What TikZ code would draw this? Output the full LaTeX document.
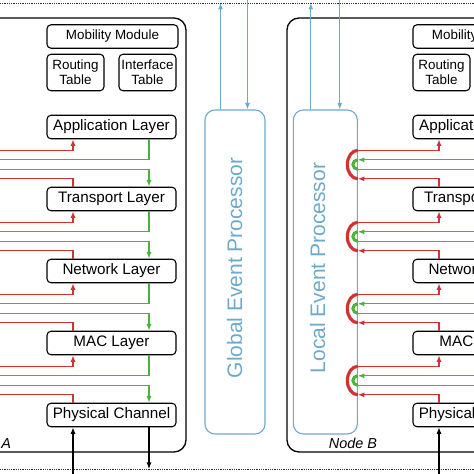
\documentclass[tikz,border=0pt]{standalone}
\usepackage{fontspec}
\setmainfont{Liberation Sans}
\usetikzlibrary{arrows.meta}
\definecolor{evred}{RGB}{208,52,50}
\definecolor{evgreen}{RGB}{72,180,62}
\definecolor{evblue}{RGB}{108,170,202}
\tikzset{
  nodebox/.style={draw, line width=1.3pt, rounded corners=12pt, inner sep=0pt},
  layer/.style={draw, line width=1.1pt, rounded corners=4pt, inner sep=0pt,
    minimum width=129pt, minimum height=23.5pt, font=\fontsize{15.2}{15.2}\selectfont},
  infobox/.style={draw, line width=1.1pt, rounded corners=4pt, inner sep=0pt, align=center,
    minimum height=23.5pt, font=\fontsize{13.4}{14.6}\selectfont},
  proc/.style={draw=evblue, line width=1.1pt, rounded corners=10pt, inner sep=0pt,
    minimum height=324pt},
  proclabel/.style={rotate=90, text=evblue, inner sep=0pt, font=\fontsize{21}{21}\selectfont},
  sig/.style={-{Latex[length=6.5pt,width=5pt]}, line width=1.1pt},
  redsig/.style={sig, evred},
  greensig/.style={sig, evgreen},
  bluesig/.style={sig, evblue},
  redcap/.style={evred, line width=3.2pt},
  greencap/.style={evgreen, line width=3pt},
}
\begin{document}
\begin{tikzpicture}[x=1pt,y=1pt]
  \useasboundingbox (0,0) rectangle (474,474);
  \clip (0,0) rectangle (474,474);
  % channel borders top and bottom
  \coordinate (page-top) at (0,474);
  \coordinate (page-bot) at (0,0);
  \coordinate (chan-top) at (0,471);
  \coordinate (chan-bot) at (0,5);
  \coordinate (chan-top-r) at (474,471);
  \coordinate (chan-bot-r) at (474,5);
  \draw[densely dotted, line width=0.8pt, black!80] (chan-top) -- (chan-top-r);
  \draw[densely dotted, line width=0.8pt, black!80] (chan-bot) -- (chan-bot-r);
  % global event processor between the two nodes
  \node[proc, minimum width=60pt] (gep) at (235,202) {};
  \node[proclabel] (gep-label) at (234.5,206) {Global Event Processor};
  \draw[bluesig] ([xshift=-14.5pt]gep.north) -- ([xshift=-14.5pt]gep.north |- chan-top);
  \draw[bluesig] ([xshift=12.5pt]gep.north |- page-top) -- ([xshift=12.5pt]gep.north);
  % the two nodes, B is node A shifted right
  \foreach \n/\dx in {A/0,B/366}{
    \begin{scope}[shift={(\dx,0)}]
      \node[nodebox, minimum width=265pt, minimum height=434pt] (\n-box) at (53.5,239) {};
      \node[inner sep=0pt, font=\itshape\fontsize{14.4}{14.4}\selectfont] (\n-label) at (-13,31) {Node \n};
      % local event processor
      \node[proc, minimum width=64pt] (\n-lep) at (-40.7,202) {};
      \draw[bluesig] ([xshift=-14.5pt]\n-lep.north) -- ([xshift=-14.5pt]\n-lep.north |- chan-top);
      \draw[bluesig] ([xshift=14.5pt]\n-lep.north |- page-top) -- ([xshift=14.5pt]\n-lep.north);
      % modules
      \node[infobox, minimum width=131pt] (\n-mob) at (112.5,437.5) {Mobility Module};
      \node[infobox, minimum width=57pt, minimum height=36.5pt] (\n-rt) at (75.5,401.5) {Routing\\Table};
      % protocol stack
      \node[layer] (\n-app) at (111.5,347) {Application Layer};
      \node[layer] (\n-trans) at (111.5,275) {Transport Layer};
      \node[layer] (\n-net) at (111.5,203) {Network Layer};
      \node[layer] (\n-mac) at (111.5,131) {MAC Layer};
      \node[layer] (\n-phy) at (111.5,59) {Physical Channel};
      % events between neighbouring layers go through the local event processor
      \foreach \up/\lo in {app/trans,trans/net,net/mac,mac/phy}{
        \draw[redcap] ([yshift=-11pt]\n-\up.south -| \n-lep.east)
          arc[start angle=90, end angle=270, x radius=10.5pt, y radius=14.25pt];
        \draw[greencap] ([yshift=-20.5pt]\n-\up.south -| \n-lep.east)
          arc[start angle=90, end angle=270, x radius=5pt, y radius=4.75pt];
        \draw[redsig] ([yshift=-11pt]\n-\up.south -| \n-lep.east) -| ([xshift=-38.5pt]\n-\up.south);
        \draw[greensig] ([xshift=37.5pt]\n-\up.south) |- ([yshift=-20.5pt]\n-\up.south -| \n-lep.east);
        \draw[greensig] ([yshift=-30pt]\n-\up.south -| \n-lep.east) -| ([xshift=37.5pt]\n-\lo.north);
        \draw[redsig] ([xshift=-38.5pt]\n-\lo.north) |- ([yshift=-39.5pt]\n-\up.south -| \n-lep.east);
      }
      % physical channel to the medium
      \draw[sig] ([xshift=-38.5pt]\n-phy.south |- page-bot) -- ([xshift=-38.5pt]\n-phy.south);
      \draw[sig] ([xshift=37.5pt]\n-phy.south) -- ([xshift=37.5pt]\n-phy.south |- chan-bot);
    \end{scope}
  }
  % only the parts that lie inside the frame
  \node[infobox, minimum width=57pt, minimum height=36.5pt] (A-it) at (147.5,401.5) {Interface\\Table};
  \node[proclabel] (B-lep-label) at (317.5,206) {Local Event Processor};
\end{tikzpicture}
\end{document}
